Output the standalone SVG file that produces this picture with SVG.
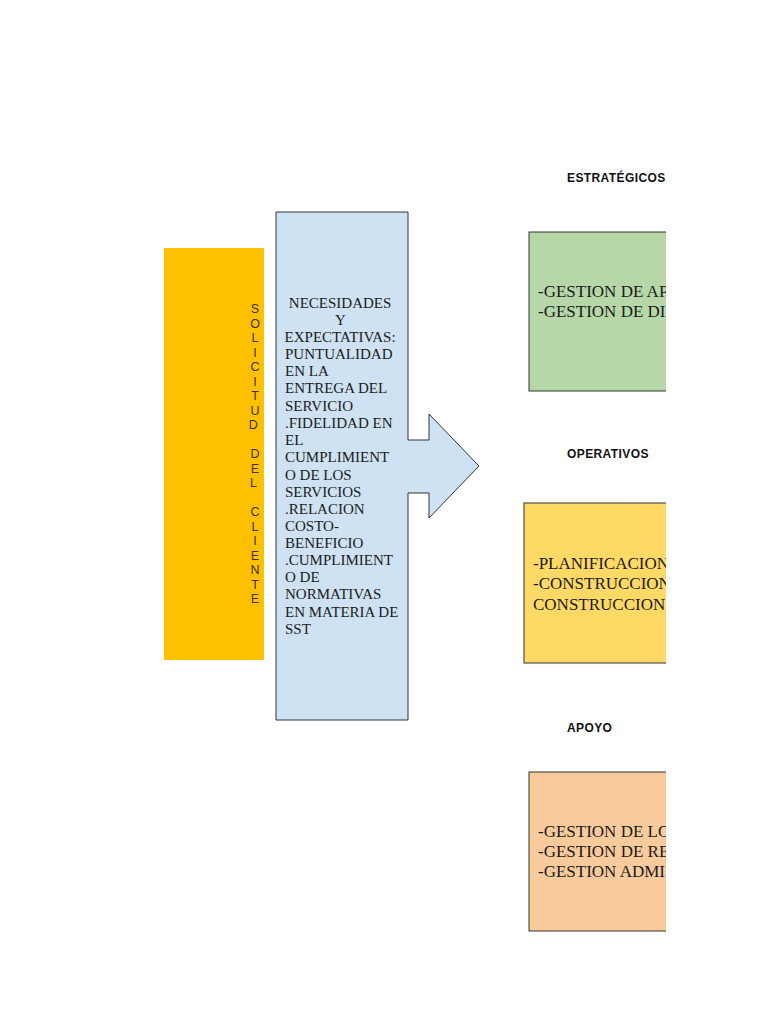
<svg xmlns="http://www.w3.org/2000/svg" width="768" height="1024" viewBox="0 0 768 1024">
<defs>
<style>
.vert{font-family:"Liberation Sans",Arial,sans-serif;font-size:12.5px;fill:#3a3000;text-anchor:middle}
.blue{font-family:"Liberation Serif","Times New Roman",serif;font-size:15px;fill:#1a1a1a}
.hdr{font-family:"Liberation Sans",Arial,sans-serif;font-size:12px;font-weight:bold;fill:#111;letter-spacing:0.4px}
.box{stroke:#333;stroke-width:1}
.btxt{font-family:"Liberation Serif","Times New Roman",serif;font-size:17px;fill:#1a1a1a}
</style>
<clipPath id="page"><rect x="0" y="0" width="666" height="1024"/></clipPath>
</defs>
<rect width="768" height="1024" fill="#fff"/>
<g id="solicitud">
<rect x="164" y="248" width="100" height="412" fill="#FFC000"/>
<text class="vert">
<tspan x="255" y="313">S</tspan><tspan x="255" y="327.5">O</tspan><tspan x="255" y="342">L</tspan><tspan x="255" y="356.5">I</tspan><tspan x="255" y="371">C</tspan><tspan x="255" y="385.5">I</tspan><tspan x="255" y="400">T</tspan><tspan x="255" y="414.5">U</tspan><tspan x="255" y="429">D</tspan>
<tspan x="255" y="458">D</tspan><tspan x="255" y="472.5">E</tspan><tspan x="255" y="487">L</tspan>
<tspan x="255" y="516">C</tspan><tspan x="255" y="530.5">L</tspan><tspan x="255" y="545">I</tspan><tspan x="255" y="559.5">E</tspan><tspan x="255" y="574">N</tspan><tspan x="255" y="588.5">T</tspan><tspan x="255" y="603">E</tspan>
</text>
</g>
<g id="necesidades">
<path d="M276,212 H408 V440 H429 V414 L479,466 L429,518 V493 H408 V720 H276 Z" fill="#CFE2F3" stroke="#333" stroke-width="1"/>
<text class="blue">
<tspan x="342" y="308" text-anchor="middle">NECESIDADES</tspan>
<tspan x="342" y="325" text-anchor="middle">Y</tspan>
<tspan x="342" y="342" text-anchor="middle">EXPECTATIVAS:</tspan>
<tspan x="285" y="359">PUNTUALIDAD</tspan>
<tspan x="285" y="376">EN LA</tspan>
<tspan x="285" y="393">ENTREGA DEL</tspan>
<tspan x="285" y="411">SERVICIO</tspan>
<tspan x="285" y="428">.FIDELIDAD EN</tspan>
<tspan x="285" y="445">EL</tspan>
<tspan x="285" y="462">CUMPLIMIENT</tspan>
<tspan x="285" y="480">O DE LOS</tspan>
<tspan x="285" y="497">SERVICIOS</tspan>
<tspan x="285" y="514">.RELACION</tspan>
<tspan x="285" y="531">COSTO-</tspan>
<tspan x="285" y="548">BENEFICIO</tspan>
<tspan x="285" y="565">.CUMPLIMIENT</tspan>
<tspan x="285" y="582">O DE</tspan>
<tspan x="285" y="599">NORMATIVAS</tspan>
<tspan x="285" y="617">EN MATERIA DE</tspan>
<tspan x="285" y="634">SST</tspan>
</text>
</g>
<g id="hdr-estrategicos"><text class="hdr" x="567" y="181.5">ESTRATÉGICOS</text></g>
<g id="hdr-operativos"><text class="hdr" x="567" y="457.5">OPERATIVOS</text></g>
<g id="hdr-apoyo"><text class="hdr" x="567" y="731.5">APOYO</text></g>
<g clip-path="url(#page)">
<g id="estrategicos">
<rect class="box" x="529" y="232" width="160" height="159" fill="#B6D7A8"/>
<text class="btxt"><tspan x="538" y="297">-GESTION DE AP</tspan><tspan x="538" y="317">-GESTION DE DI</tspan></text>
</g>
<g id="operativos">
<rect class="box" x="524" y="503" width="165" height="160" fill="#FFD966"/>
<text class="btxt"><tspan x="533" y="569">-PLANIFICACION</tspan><tspan x="533" y="589">-CONSTRUCCION</tspan><tspan x="533" y="610">CONSTRUCCION</tspan></text>
</g>
<g id="apoyo">
<rect class="box" x="529" y="772" width="160" height="159" fill="#F9CB9C"/>
<text class="btxt"><tspan x="538" y="837">-GESTION DE LO</tspan><tspan x="538" y="857">-GESTION DE RE</tspan><tspan x="538" y="877">-GESTION ADMI</tspan></text>
</g>
</g>
<g id="connectors"></g>
</svg>
